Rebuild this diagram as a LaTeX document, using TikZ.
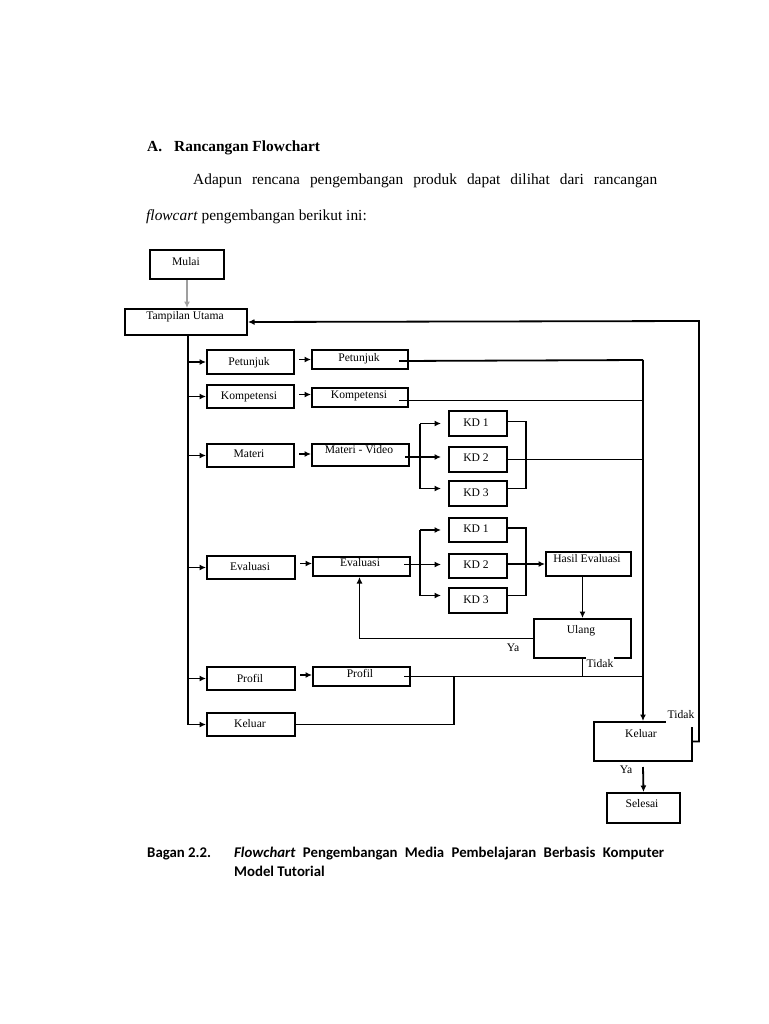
\documentclass[tikz,border=0pt]{standalone}
\usepackage{fontspec}
\setmainfont{Liberation Serif}
\newfontfamily\capfont{Carlito}
\usetikzlibrary{arrows.meta,calc}
\begin{document}
\begin{tikzpicture}[x=1pt,y=-1pt,
 box/.style={draw,line width=2pt,inner sep=0pt,anchor=north west},
 lbl/.style={font=\fontsize{11.6}{12}\selectfont,inner sep=0pt,anchor=base},
 conn/.style={line width=1.8pt},
 arr/.style={conn,-{Latex[length=6.5pt,width=6pt]}},
 head/.style={anchor=base west,inner sep=0pt,font=\fontsize{15.4}{18}\selectfont},
 capt/.style={anchor=base west,inner sep=0pt,font=\capfont\bfseries\fontsize{14.8}{17}\selectfont},
]
\useasboundingbox[fill=white] (0,0) rectangle (768,1024);

% ---- heading text
\node[head,font=\fontsize{15.4}{18}\selectfont\bfseries] (hA) at (147,152) {A.};
\node[head,font=\fontsize{15.4}{18}\selectfont\bfseries] (hR) at (174,152) {Rancangan Flowchart};
\node[head] (par1) at (193,185) {\hbox to 464pt{Adapun\hfill rencana\hfill pengembangan\hfill produk\hfill dapat\hfill dilihat\hfill dari\hfill rancangan}};
\node[head] (par2) at (146,221) {\textit{flowcart} pengembangan berikut ini:};

% ---- boxes
\node[box,minimum width=74pt,minimum height=29pt] (mulai) at (149,249) {};
\node[lbl] (mulaiT) at (186,265) {Mulai};
\node[box,minimum width=122pt,minimum height=26pt] (tu) at (124,308) {};
\node[lbl] (tuT) at (185,319) {Tampilan Utama};

\node[box,minimum width=87pt,minimum height=24pt] (pet1) at (206,349) {};
\node[lbl] (pet1T) at (249,365) {Petunjuk};
\node[box,minimum width=96pt,minimum height=19pt] (pet2) at (311,349) {};
\node[lbl] (pet2T) at (359,361) {Petunjuk};

\node[box,minimum width=87pt,minimum height=23pt] (kom1) at (206,384) {};
\node[lbl] (kom1T) at (249,399) {Kompetensi};
\node[box,minimum width=96pt,minimum height=19pt] (kom2) at (311,387) {};
\node[lbl] (kom2T) at (359,398) {Kompetensi};

\node[box,minimum width=87pt,minimum height=23pt] (mat1) at (206,443) {};
\node[lbl] (mat1T) at (249,457) {Materi};
\node[box,minimum width=97pt,minimum height=22pt] (mat2) at (311,443) {};
\node[lbl] (mat2T) at (359,453) {Materi - Video};

\node[box,minimum width=58pt,minimum height=25pt] (kd11) at (448,410) {};
\node[lbl] (kd11T) at (476,426) {KD 1};
\node[box,minimum width=58pt,minimum height=25pt] (kd12) at (448,446) {};
\node[lbl] (kd12T) at (476,461) {KD 2};
\node[box,minimum width=58pt,minimum height=25pt] (kd13) at (448,480) {};
\node[lbl] (kd13T) at (476,496) {KD 3};

\node[box,minimum width=88pt,minimum height=23pt] (ev1) at (206,555) {};
\node[lbl] (ev1T) at (250,570) {Evaluasi};
\node[box,minimum width=97pt,minimum height=19pt] (ev2) at (312,556) {};
\node[lbl] (ev2T) at (360,566) {Evaluasi};

\node[box,minimum width=58pt,minimum height=24pt] (kd21) at (448,517) {};
\node[lbl] (kd21T) at (476,532) {KD 1};
\node[box,minimum width=58pt,minimum height=24pt] (kd22) at (448,553) {};
\node[lbl] (kd22T) at (476,568) {KD 2};
\node[box,minimum width=58pt,minimum height=25pt] (kd23) at (448,587) {};
\node[lbl] (kd23T) at (476,603) {KD 3};

\node[box,minimum width=85pt,minimum height=24pt] (hasil) at (545,551) {};
\node[lbl] (hasilT) at (587,562) {Hasil Evaluasi};
\node[box,minimum width=97pt,minimum height=39pt] (ulang) at (533,618) {};
\node[lbl] (ulangT) at (581,633) {Ulang};

\node[box,minimum width=88pt,minimum height=23pt] (pro1) at (206,666) {};
\node[lbl] (pro1T) at (250,682) {Profil};
\node[box,minimum width=97pt,minimum height=19pt] (pro2) at (312,666) {};
\node[lbl] (pro2T) at (360,677) {Profil};

\node[box,minimum width=88pt,minimum height=23pt] (kel1) at (206,712) {};
\node[lbl] (kel1T) at (250,727) {Keluar};
\node[box,minimum width=98pt,minimum height=39pt] (kel2) at (593,721) {};
\node[lbl] (kel2T) at (641,737) {Keluar};
\node[box,minimum width=73pt,minimum height=30pt] (selesai) at (606,792) {};
\node[lbl] (selesaiT) at (642,807) {Selesai};

% ---- helper coordinates
\coordinate (mTop) at (188,334);
\coordinate (rTop) at (643,360);
\coordinate (bL) at (420,0);
\coordinate (bR) at (526,0);
\coordinate (jn) at (454,0);
\coordinate (oTop) at (699,321);

% ---- connectors
\draw[arr,gray!75] (mulai.south) -- (mulai.south |- tu.north);
\draw[conn] (mTop) -- (mTop |- kel1.west);
\foreach \b in {pet1,kom1,mat1,ev1,pro1,kel1}{
  \draw[arr] (mTop |- \b.west) -- (\b.west);
}
% small arrows between paired boxes
\draw[arr] ($(pet1.east |- pet2.west)+(4,0)$) -- (pet2.west);
\draw[arr] ($(kom1.east |- kom2.west)+(4,-3)$) -- ($(kom2.west)+(0,-3)$);
\draw[arr] ($(mat1.east |- mat2.west)+(4,-1)$) -- ($(mat2.west)+(0,-1)$);
\draw[arr] ($(ev1.east |- ev2.west)+(4,-3)$) -- ($(ev2.west)+(0,-3)$);
\draw[arr] ($(pro1.east |- pro2.west)+(4,-1.5)$) -- ($(pro2.west)+(0,-1.5)$);

% right collecting line
\path ($(pet2.east)+(-10,1.5)$) coordinate (petS);
\draw[conn] (petS) -- (rTop);
\path ($(kom2.east)+(-10,3)$) coordinate (komS);
\draw[conn] (komS) -- (komS -| rTop);
\draw[arr] (rTop) -- (rTop |- kel2.north);

% materi branch
\path ($(mat2.east)+(-5,2)$) coordinate (matS);
\draw[arr,shorten >=7pt] (matS) -- (matS -| kd12.west);
\draw[arr,shorten >=7pt] (bL |- kd11.west) -- (kd11.west);
\draw[conn] (bL |- kd11.west) -- ($(bL |- kd13.west)+(0,-5)$);
\draw[arr,shorten >=7pt] ($(bL |- kd13.west)+(0,-5)$) -- ($(kd13.west)+(0,-5)$);
\draw[conn] ($(kd11.east)+(0,-2)$) -| ($(bR |- kd13.east)+(0,-5)$) -- ($(kd13.east)+(0,-5)$);
\draw[conn] (kd12.east) -- (kd12.east -| rTop);

% evaluasi branch
\path ($(ev2.east)+(-7,-2)$) coordinate (evS);
\draw[arr,shorten >=7pt] (evS) -- (evS -| kd22.west);
\draw[arr,shorten >=7pt] (bL |- kd21.west) -- (kd21.west);
\draw[conn] (bL |- kd21.west) -- ($(bL |- kd23.west)+(0,-5)$);
\draw[arr,shorten >=7pt] ($(bL |- kd23.west)+(0,-5)$) -- ($(kd23.west)+(0,-5)$);
\draw[conn] ($(kd21.east)+(0,-2)$) -| ($(bR |- kd23.east)+(0,-5)$) -- ($(kd23.east)+(0,-5)$);
\draw[arr] (kd22.east |- hasil.west) -- (hasil.west);
\draw[arr] (hasil.south -| ulang.north) -- (ulang.north);
\draw[arr] (ulang.west) -| ($(ev2.south)+(-2,0)$);
\node[lbl] (ya1) at (513,651) {Ya};

% profil / keluar
\path ($(pro2.east)+(-7,0)$) coordinate (proS);
\draw[conn] (proS) -- (proS -| rTop);
\draw[conn] (kel1.east) -| (jn |- proS);
\draw[conn] (ulang.south) -- (ulang.south |- proS);
\fill[white] (586,655) rectangle (614,668);
\node[lbl] (tidak1) at (600,667) {Tidak};

% keluar loop back
\draw[arr] (kel2.east) -| (oTop) -- (tu.east);
\fill[white] (666,708) rectangle (693.5,727);
\node[lbl] (tidak2) at (681,718) {Tidak};
\draw[arr] ($(kel2.south)+(0,5)$) -- (selesai.north);
\node[lbl] (ya2) at (626,773) {Ya};

% ---- caption
\node[capt] (cB) at (147,857) {Bagan 2.2.};
\node[capt] (cT1) at (234,857) {\hbox to 430pt{\textit{Flowchart}\hfill Pengembangan\hfill Media\hfill Pembelajaran\hfill Berbasis\hfill Komputer}};
\node[capt] (cT2) at (234,876) {Model Tutorial};
\end{tikzpicture}
\end{document}
